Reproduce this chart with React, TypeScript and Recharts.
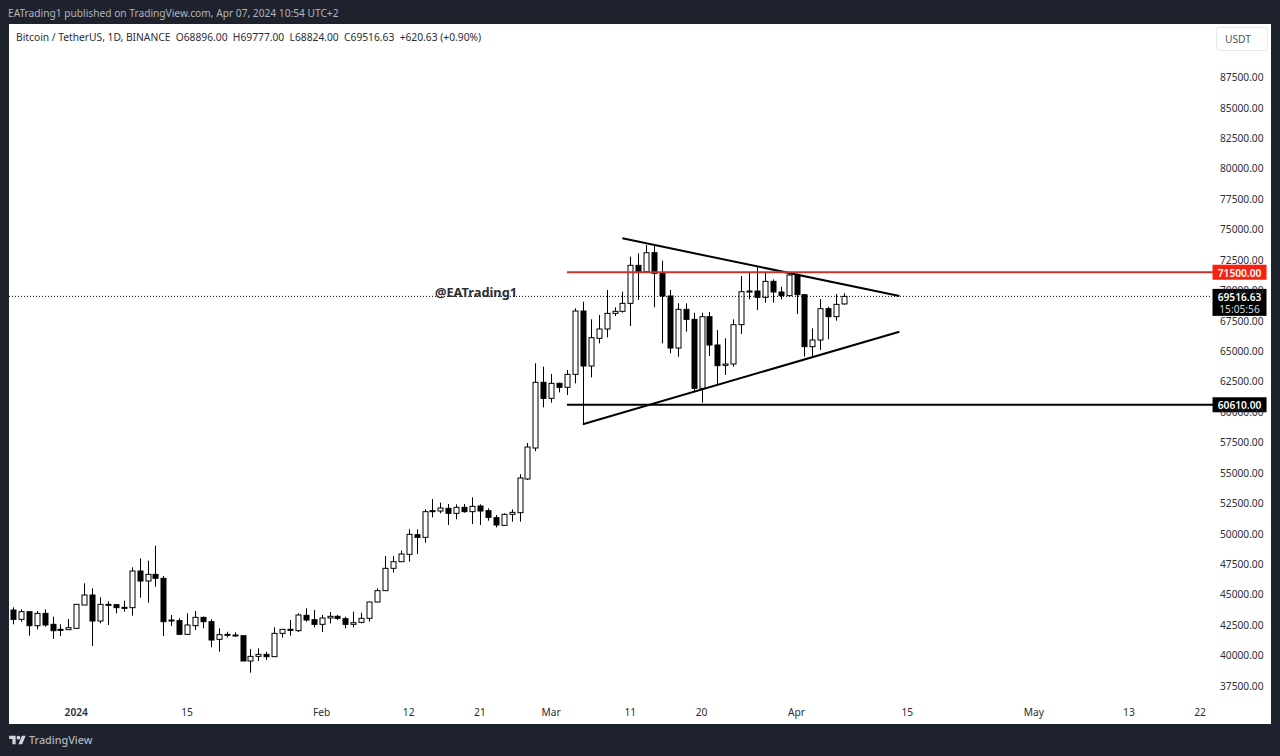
import { Bar, ComposedChart, ReferenceDot, ReferenceLine, XAxis, YAxis } from 'recharts';

const opens = [
  43744, 42978, 43608, 42457, 43470, 42567, 42156, 42129, 42238, 44155,
  44977, 42841, 44155, 44182, 43964, 43936, 46949, 46127, 46675, 46347,
  42923, 42868, 41745, 42457, 43142, 42786, 41334, 41690, 41690, 41635,
  39554, 39937, 40102, 39910, 41827, 42156, 42047, 43307, 42951, 42567,
  43088, 43225, 43033, 42567, 42731, 43060, 44402, 45334, 47169, 47716,
  48319, 49935, 49715, 51907, 51880, 52099, 51688, 52181, 51825, 52291,
  51907, 51332, 50702, 51606, 51743, 54509, 57056, 62453, 61138, 62370,
  62042, 63110, 68314, 63795, 66068, 66835, 68123, 68287, 68944, 72067,
  71546, 73107, 71464, 69547, 65274, 68450, 67629, 61959, 67848, 65520,
  63849, 63959, 67191, 69957, 69957, 69437, 70751, 69875, 69574, 71272,
  69656, 65383, 65931, 68505, 67848, 68896,
];
const highs = [
  43964, 43799, 43662, 43662, 43799, 43197, 42567, 43005, 44210, 45936,
  45525, 44785, 44457, 44237, 44511, 47250, 47990, 47798, 49031, 46538,
  43333, 43060, 43470, 43662, 43197, 42978, 42238, 41964, 41909, 41690,
  40540, 40595, 40321, 42320, 42183, 42923, 43471, 43882, 43745, 43334,
  43581, 43334, 43197, 43608, 43526, 44430, 45525, 48182, 48182, 48620,
  50373, 50373, 52017, 52866, 52564, 52455, 52427, 52455, 53003, 52427,
  52099, 51551, 51688, 52017, 54900, 57467, 64014, 63740, 63137, 62425,
  63466, 68533, 69081, 67630, 67986, 70040, 68616, 69903, 72779, 73053,
  73737, 73737, 72450, 70040, 68944, 68944, 68177, 68177, 68231, 66752,
  66068, 67629, 71190, 71491, 71902, 71463, 70916, 70313, 71463, 71409,
  69710, 66889, 69300, 68670, 69710, 69777,
];
const lows = [
  42567, 42786, 41635, 42156, 42375, 41362, 41608, 42101, 42238, 44155,
  40786, 42649, 42512, 43470, 43608, 43279, 44758, 44347, 45662, 41608,
  42430, 41745, 41745, 42101, 42238, 40677, 40321, 41499, 41553, 39554,
  38595, 39554, 39636, 39910, 41471, 41635, 41937, 42786, 42321, 41937,
  42649, 42923, 42238, 42321, 42649, 42786, 44375, 45334, 46813, 47716,
  47716, 48346, 49278, 51359, 51688, 50729, 51195, 51743, 50811, 50729,
  51085, 50538, 50675, 51003, 51003, 54427, 56800, 60399, 60782, 61631,
  61412, 62370, 59005, 62864, 65657, 66150, 67903, 68177, 67082, 69218,
  71546, 68616, 65657, 64836, 64562, 66615, 61685, 60781, 64616, 62233,
  63055, 63740, 66424, 69272, 68396, 69000, 69000, 69272, 69491, 68067,
  64561, 64561, 65109, 65985, 67519, 68824,
];
const closes = [
  42978, 43608, 42457, 43470, 42512, 42046, 42101, 42293, 44210, 44977,
  42841, 44210, 44210, 43936, 43920, 46949, 46127, 46675, 46347, 42786,
  42868, 41745, 42512, 43142, 42786, 41279, 41718, 41745, 41635, 39554,
  39937, 40102, 39910, 41827, 42156, 42101, 43334, 42923, 42567, 43088,
  43225, 43060, 42567, 42704, 43060, 44402, 45334, 47169, 47716, 48346,
  49962, 49715, 51825, 51825, 52126, 51688, 52181, 51825, 52263, 51880,
  51359, 50729, 51606, 51770, 54591, 57139, 62453, 61138, 62370, 62042,
  63110, 68314, 63795, 66123, 66835, 68123, 68287, 68944, 72067, 71546,
  73107, 71409, 69547, 65274, 68451, 67629, 61959, 67848, 65520, 63822,
  63959, 67191, 69902, 69875, 69437, 70751, 69875, 69574, 71272, 69656,
  65383, 65931, 68505, 67848, 68861, 69516.63,
];

const priceTicks = [
  37500, 40000, 42500, 45000, 47500, 50000, 52500, 55000, 57500, 60000, 62500,
  65000, 67500, 70000, 72500, 75000, 77500, 80000, 82500, 85000, 87500,
];
// bar numbers of the time axis, Dec 24 2023 is bar 0
const timeTicks = [8, 22, 39, 50, 59, 68, 78, 87, 99, 113, 129, 141, 150];
const timeLabels = ['2024', '15', 'Feb', '12', '21', 'Mar', '11', '20', 'Apr', '15', 'May', '13', '22'];
const barCount = 152;

const upperTrend = [
  { bar: 77, price: 74288 },
  { bar: 112, price: 69546 },
];
const lowerTrend = [
  { bar: 72, price: 59005 },
  { bar: 112, price: 66613 },
];
const resistance = 71500;
const support = 60610;
const lastPrice = 69516.63;
const lineStart = 70;
const lastBar = 151;

const chartData = Array.from({ length: barCount }, (_, i) => ({
  bar: i,
  open: opens[i],
  high: highs[i],
  low: lows[i],
  close: closes[i],
  range: i < opens.length ? [lows[i], highs[i]] : null,
}));

const UI_FONT = '"Noto Sans", sans-serif';
const FRAME = '#1e222d';

const Candle = (props: any) => {
  const { x, y, width, height, payload } = props;
  if (!payload || payload.open === undefined) return null;
  const { open, close, high, low } = payload;
  const toY = (p: number) => y + ((high - p) / (high - low)) * height;
  const cx = Math.round(x + width / 2) + 0.5;
  const down = close < open;
  const top = toY(Math.max(open, close));
  const bottom = toY(Math.min(open, close));
  return (
    <g>
      <line x1={cx} x2={cx} y1={y} y2={y + height} stroke="#000" strokeWidth={1} />
      <rect
        x={cx - 2.5}
        y={top}
        width={5}
        height={Math.max(bottom - top, 1)}
        fill={down ? '#000' : '#fff'}
        stroke="#000"
        strokeWidth={1}
      />
    </g>
  );
};

const priceTag = (label: string, fill: string, lineColor: string, width: number) => (props: any) => {
  const { x1, x2, y1, y2 } = props;
  const right = Math.max(x1, x2);
  return (
    <g>
      <line x1={Math.min(x1, x2)} x2={right + 5} y1={y1} y2={y2} stroke={lineColor} strokeWidth={width} />
      <rect x={right + 4.5} y={y2 - 7.5} width={54} height={15} fill={fill} />
      <text
        x={right + 31.5}
        y={y2 + 0.5}
        textAnchor="middle"
        dominantBaseline="central"
        fontFamily={UI_FONT}
        fontSize={10.2}
        fontWeight={600}
        fill="#fff"
      >
        {label}
      </text>
    </g>
  );
};

const LastPriceLine = (props: any) => {
  const { x1, x2, y1, y2 } = props;
  const left = Math.min(x1, x2);
  const right = Math.max(x1, x2);
  return (
    <g>
      <line x1={left} x2={right} y1={y1} y2={y2} stroke="#000" strokeWidth={1} strokeDasharray="1 2" />
      <rect x={right + 0.5} y={y2 - 7.5} width={54} height={27} fill="#000" />
      <text x={right + 27.5} y={y2 + 0.5} textAnchor="middle" dominantBaseline="central" fontFamily={UI_FONT} fontSize={10.2} fontWeight={600} fill="#fff">
        69516.63
      </text>
      <text x={right + 27.5} y={y2 + 13} textAnchor="middle" dominantBaseline="central" fontFamily={UI_FONT} fontSize={10.2} fill="#d8d8d8">
        15:05:56
      </text>
    </g>
  );
};

const TimeTick = (props: any) => {
  const { x, y, payload } = props;
  const label = timeLabels[timeTicks.indexOf(payload.value)];
  return (
    <text x={x} y={y} textAnchor="middle" dominantBaseline="central" fontFamily={UI_FONT} fontSize={10.2} fontWeight={label === '2024' ? 600 : 400} fill="#2a2e39">
      {label}
    </text>
  );
};

const Watermark = (props: any) => (
  <text x={props.cx + 4} y={props.cy} textAnchor="middle" dominantBaseline="central" fontFamily={UI_FONT} fontSize={12.8} fontWeight={700} fill="#2a2e39">
    @EATrading1
  </text>
);

export default function App() {
  return (
    <div style={{ position: 'fixed', left: 0, top: 0, width: 1280, height: 756, background: FRAME, fontFamily: UI_FONT, overflow: 'hidden' }}>
      <div style={{ position: 'absolute', left: 8, top: 5, fontSize: 10.2, lineHeight: '16px', color: '#b2b5be', whiteSpace: 'nowrap' }}>
        EATrading1 published on TradingView.com, Apr 07, 2024 10:54 UTC+2
      </div>
      <div style={{ position: 'absolute', left: 9, top: 24, width: 1262, height: 700, background: '#fff' }}>
        <ComposedChart
          width={1262}
          height={700}
          data={chartData}
          margin={{ top: 0, right: 0, bottom: 0, left: 0 }}
          barCategoryGap={0}
        >
          <XAxis
            dataKey="bar"
            ticks={timeTicks}
            interval={0}
            height={24}
            axisLine={false}
            tickLine={false}
            tick={<TimeTick />}
            tickMargin={0}
            tickSize={12}
          />
          <YAxis
            orientation="right"
            width={59}
            domain={[36350, 91898]}
            ticks={priceTicks}
            interval={0}
            allowDataOverflow
            axisLine={false}
            tickLine={false}
            tickSize={0}
            tickMargin={8}
            tickFormatter={(v: number) => v.toFixed(2)}
            tick={{ fill: '#2a2e39', fontSize: 10.2, fontFamily: UI_FONT }}
          />
          <Bar dataKey="range" barSize={6} shape={<Candle />} isAnimationActive={false} />
          <ReferenceLine y={lastPrice} shape={<LastPriceLine />} />
          <ReferenceLine
            segment={upperTrend.map((p) => ({ x: p.bar, y: p.price }))}
            stroke="#000"
            strokeWidth={2}
          />
          <ReferenceLine
            segment={lowerTrend.map((p) => ({ x: p.bar, y: p.price }))}
            stroke="#000"
            strokeWidth={2}
          />
          <ReferenceLine
            segment={[{ x: lineStart, y: resistance }, { x: lastBar, y: resistance }]}
            shape={priceTag('71500.00', '#f7210f', '#c4362b', 2)}
          />
          <ReferenceLine
            segment={[{ x: lineStart, y: support }, { x: lastBar, y: support }]}
            shape={priceTag('60610.00', '#000', '#000', 2)}
          />
          <ReferenceDot x={58} y={69875} r={0} shape={<Watermark />} />
        </ComposedChart>
      </div>
      <div style={{ position: 'absolute', left: 16, top: 29, fontSize: 10.25, lineHeight: '16px', color: '#2a2e39', whiteSpace: 'pre' }}>
        {'Bitcoin / TetherUS, 1D, BINANCE  O68896.00  H69777.00  L68824.00  C69516.63  +620.63 (+0.90%)'}
      </div>
      <div
        style={{
          position: 'absolute',
          left: 1216,
          top: 27,
          width: 42,
          height: 22,
          border: '1px solid #e6e8ee',
          borderRadius: 3,
          background: '#fff',
          fontSize: 10.2,
          lineHeight: '22px',
          color: '#50535e',
          paddingLeft: 8,
        }}
      >
        USDT
      </div>
      <svg width={17} height={13} viewBox="0 0 36 28" style={{ position: 'absolute', left: 9, top: 734 }}>
        <path d="M14 22H7V11H0V4h14v18zM28 22h-8l7.5-18h8L28 22z" fill="#d1d4dc" />
        <circle cx={20} cy={8} r={4} fill="#d1d4dc" />
      </svg>
      <div style={{ position: 'absolute', left: 29, top: 732, fontSize: 10.8, lineHeight: '16px', fontWeight: 500, color: '#b2b5be' }}>
        TradingView
      </div>
    </div>
  );
}
